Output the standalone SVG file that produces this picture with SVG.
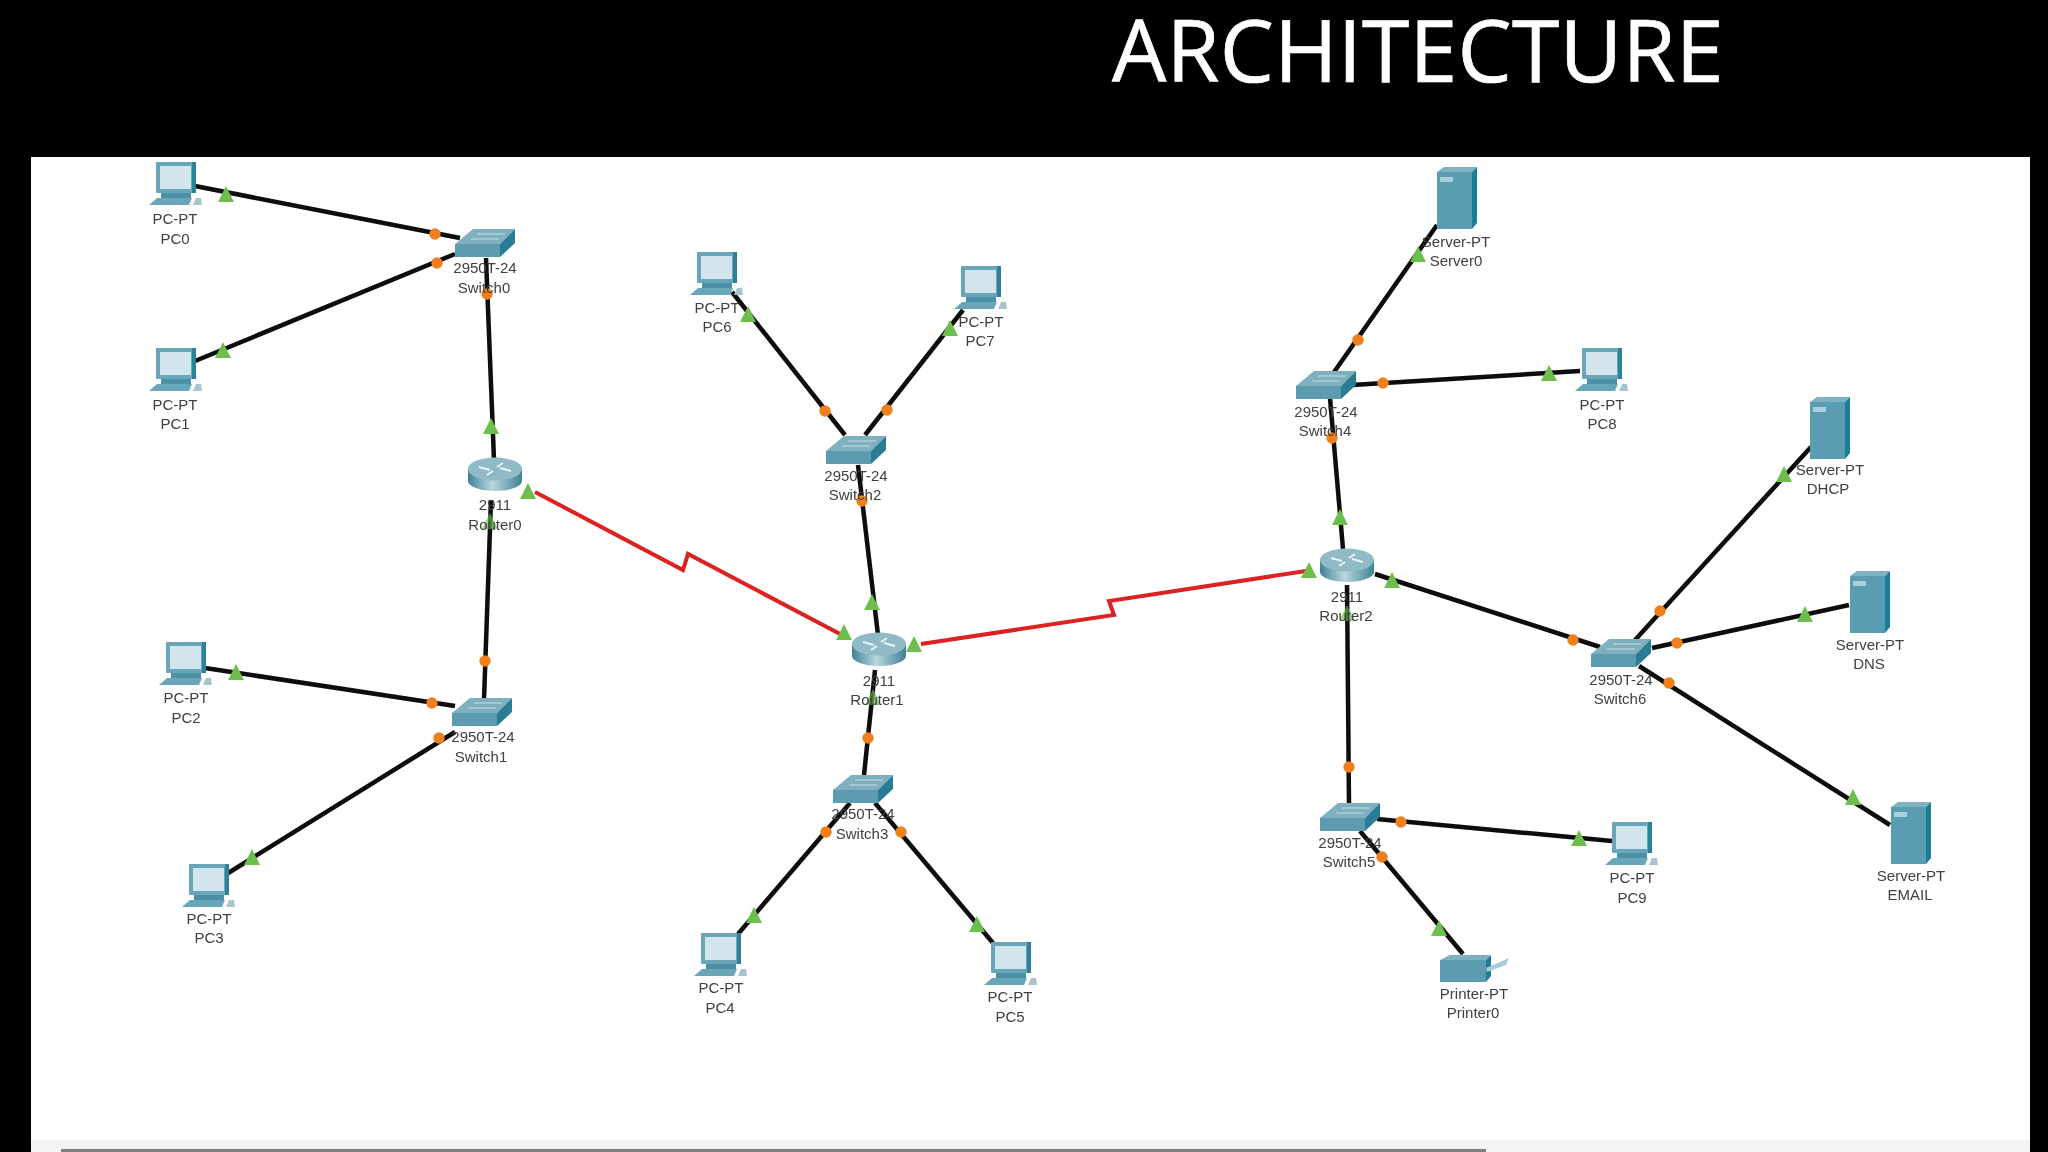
<svg xmlns="http://www.w3.org/2000/svg" width="2048" height="1152" viewBox="0 0 2048 1152">
<style>
.l{font:15px "Liberation Sans",Arial,sans-serif;fill:#404040;text-anchor:middle}
.t{font:86px "Open Sans","Noto Sans",sans-serif;fill:#fff;stroke:#fff;stroke-width:.7;letter-spacing:.2px}
.w{stroke:#0a0a0a;stroke-width:4.5;fill:none;stroke-linecap:butt}
.r{stroke:#dc2020;stroke-width:4;fill:none}
.o{fill:#f07f1e}
.g{fill:#6cbf4e}
.f{fill:#6cbf4e;opacity:.65}
</style>
<defs>
<linearGradient id="rg" x1="0" x2="1" y1="0" y2="0"><stop offset="0" stop-color="#3f8296"/><stop offset=".45" stop-color="#b9d6dd"/><stop offset="1" stop-color="#3f8296"/></linearGradient>
<filter id="soft" x="-2%" y="-2%" width="104%" height="104%"><feGaussianBlur stdDeviation="0.5"/></filter>
<circle id="dot" r="5.7" class="o"/>
<path id="tri" d="M0-9L8 7H-8Z" class="g"/>
<path id="trif" d="M0-9L8 7H-8Z" class="f"/>
<g id="pc">
<rect x="-19" y="-22" width="40" height="31" rx="1" fill="#6aa6b9"/>
<rect x="17" y="-22" width="4" height="31" fill="#2f8199"/>
<rect x="-15" y="-18" width="31" height="23" fill="#d3e5ec"/>
<rect x="-14" y="9" width="30" height="5" fill="#4c90a6"/>
<path d="M-26 21L-18 14H17L14 21Z" fill="#6aa6b9"/>
<path d="M18 21l3-7h5l1 7Z" fill="#a9c4cc"/>
</g>
<g id="sw">
<path d="M-30 1L-12-14H30L15 1Z" fill="#7fb0bf"/>
<rect x="-30" y="1" width="45" height="13" fill="#5c9bb0"/>
<path d="M15 1L30-14V0L15 14Z" fill="#2b7c95"/>
<path d="M-14-4H14M-8-9H20" stroke="#c8dde3" stroke-width="1" fill="none"/>
</g>
<g id="rt">
<path d="M-27-6V6A27 10 0 0 0 27 6V-6Z" fill="url(#rg)"/>
<ellipse cx="0" cy="-6" rx="27" ry="11.5" fill="#8fbac6"/>
<path d="M-16-8L-5-5M16-4L5-7M-8 0L-2-4M8-12L2-8" stroke="#eaf4f6" stroke-width="2" fill="none"/>
</g>
<g id="sv">
<path d="M-20-26L-13-31H20L15-26Z" fill="#7fb3c2"/>
<rect x="-20" y="-26" width="35" height="57" fill="#5a9db3"/>
<path d="M15-26L20-31V25L15 31Z" fill="#1f7d99"/>
<rect x="-17" y="-21" width="13" height="5" fill="#a8cfdc"/>
</g>
<g id="pr">
<path d="M-33-8L-23-13H18L13-8Z" fill="#7fb0bf"/>
<rect x="-33" y="-8" width="46" height="22" fill="#5c9bb0"/>
<path d="M13-8L18-13V8L13 14Z" fill="#1f7d99"/>
<path d="M13 0L36-10L33-3L14 4Z" fill="#a9cbd5"/>
</g>
</defs>
<rect width="2048" height="1152" fill="#000"/>
<rect x="31" y="157" width="1999" height="995" fill="#fff"/>
<rect x="31" y="1140" width="1999" height="12" fill="#f4f4f4"/>
<rect x="61" y="1149" width="1425" height="3" fill="#808080"/>
<text class="t" x="1112" y="82" id="title">ARCHITECTURE</text>
<g id="connectors" filter="url(#soft)">
<path class="w" d="M195 186L460 238M195 361L455 254M486 258L494 460M491 500L484 700M205 668L455 706M225 875L455 732"/>
<path class="w" d="M878 635L858 465M732 292L845 435M963 310L865 435M875 670L864 775M850 803L738 934M875 803L993 943"/>
<path class="w" d="M1343 549L1330 398M1332 375L1437 225M1352 385L1580 371M1375 574L1600 647M1347 585L1349 805M1377 819L1612 841M1360 831L1463 954"/>
<path class="w" d="M1635 640L1811 447M1652 648L1849 605M1639 666L1890 825"/>
<path class="r" d="M535 492L683 570L688 554L842 635M921 644L1114 615L1109 601L1306 571"/>
<g>
<use href="#dot" x="435" y="234"/><use href="#dot" x="437" y="263"/><use href="#dot" x="487" y="294"/><use href="#dot" x="485" y="661"/><use href="#dot" x="432" y="703"/><use href="#dot" x="439" y="738"/><use href="#dot" x="825" y="411"/><use href="#dot" x="887" y="410"/><use href="#dot" x="862" y="501"/><use href="#dot" x="868" y="738"/><use href="#dot" x="826" y="832"/><use href="#dot" x="901" y="832"/><use href="#dot" x="1358" y="340"/><use href="#dot" x="1383" y="383"/><use href="#dot" x="1332" y="438"/><use href="#dot" x="1349" y="767"/><use href="#dot" x="1401" y="822"/><use href="#dot" x="1382" y="857"/><use href="#dot" x="1573" y="640"/><use href="#dot" x="1660" y="611"/><use href="#dot" x="1677" y="643"/><use href="#dot" x="1669" y="683"/>
</g>
<g>
<use href="#tri" x="226" y="195"/><use href="#tri" x="223" y="351"/><use href="#tri" x="491" y="427"/><use href="#tri" x="528" y="492"/><use href="#trif" x="490" y="522"/><use href="#tri" x="236" y="673"/><use href="#tri" x="252" y="858"/><use href="#tri" x="844" y="633"/><use href="#tri" x="914" y="645"/><use href="#tri" x="872" y="603"/><use href="#trif" x="873" y="698"/><use href="#tri" x="748" y="315"/><use href="#tri" x="950" y="329"/><use href="#tri" x="754" y="916"/><use href="#tri" x="977" y="925"/><use href="#tri" x="1418" y="255"/><use href="#tri" x="1549" y="374"/><use href="#tri" x="1340" y="518"/><use href="#tri" x="1309" y="571"/><use href="#tri" x="1392" y="581"/><use href="#trif" x="1347" y="614"/><use href="#tri" x="1784" y="475"/><use href="#tri" x="1805" y="615"/><use href="#tri" x="1853" y="798"/><use href="#tri" x="1579" y="839"/><use href="#tri" x="1439" y="929"/>
</g>
</g>
<g id="nodes" filter="url(#soft)">
<g id="PC0"><use href="#pc" x="175" y="184"/><text class="l" x="175" y="224">PC-PT</text><text class="l" x="175" y="244">PC0</text></g>
<g id="PC1"><use href="#pc" x="175" y="370"/><text class="l" x="175" y="410">PC-PT</text><text class="l" x="175" y="429">PC1</text></g>
<g id="PC2"><use href="#pc" x="185" y="664"/><text class="l" x="186" y="703">PC-PT</text><text class="l" x="186" y="723">PC2</text></g>
<g id="PC3"><use href="#pc" x="208" y="886"/><text class="l" x="209" y="924">PC-PT</text><text class="l" x="209" y="943">PC3</text></g>
<g id="PC4"><use href="#pc" x="720" y="955"/><text class="l" x="721" y="993">PC-PT</text><text class="l" x="720" y="1013">PC4</text></g>
<g id="PC5"><use href="#pc" x="1010" y="964"/><text class="l" x="1010" y="1002">PC-PT</text><text class="l" x="1010" y="1022">PC5</text></g>
<g id="PC6"><use href="#pc" x="716" y="274"/><text class="l" x="717" y="313">PC-PT</text><text class="l" x="717" y="332">PC6</text></g>
<g id="PC7"><use href="#pc" x="980" y="288"/><text class="l" x="981" y="327">PC-PT</text><text class="l" x="980" y="346">PC7</text></g>
<g id="PC8"><use href="#pc" x="1601" y="370"/><text class="l" x="1602" y="410">PC-PT</text><text class="l" x="1602" y="429">PC8</text></g>
<g id="PC9"><use href="#pc" x="1631" y="844"/><text class="l" x="1632" y="883">PC-PT</text><text class="l" x="1632" y="903">PC9</text></g>
<g id="Switch0"><use href="#sw" x="485" y="243"/><text class="l" x="485" y="273">2950T-24</text><text class="l" x="484" y="293">Switch0</text></g>
<g id="Switch1"><use href="#sw" x="482" y="712"/><text class="l" x="483" y="742">2950T-24</text><text class="l" x="481" y="762">Switch1</text></g>
<g id="Switch2"><use href="#sw" x="856" y="450"/><text class="l" x="856" y="481">2950T-24</text><text class="l" x="855" y="500">Switch2</text></g>
<g id="Switch3"><use href="#sw" x="863" y="789"/><text class="l" x="863" y="819">2950T-24</text><text class="l" x="862" y="839">Switch3</text></g>
<g id="Switch4"><use href="#sw" x="1326" y="385"/><text class="l" x="1326" y="417">2950T-24</text><text class="l" x="1325" y="436">Switch4</text></g>
<g id="Switch5"><use href="#sw" x="1350" y="817"/><text class="l" x="1350" y="848">2950T-24</text><text class="l" x="1349" y="867">Switch5</text></g>
<g id="Switch6"><use href="#sw" x="1621" y="653"/><text class="l" x="1621" y="685">2950T-24</text><text class="l" x="1620" y="704">Switch6</text></g>
<g id="Router0"><use href="#rt" x="495" y="475"/><text class="l" x="495" y="510">2911</text><text class="l" x="495" y="530">Router0</text></g>
<g id="Router1"><use href="#rt" x="879" y="650"/><text class="l" x="879" y="686">2911</text><text class="l" x="877" y="705">Router1</text></g>
<g id="Router2"><use href="#rt" x="1347" y="566"/><text class="l" x="1347" y="602">2911</text><text class="l" x="1346" y="621">Router2</text></g>
<g id="Server0"><use href="#sv" x="1457" y="198"/><text class="l" x="1456" y="247">Server-PT</text><text class="l" x="1456" y="266">Server0</text></g>
<g id="DHCP"><use href="#sv" x="1830" y="428"/><text class="l" x="1830" y="475">Server-PT</text><text class="l" x="1828" y="494">DHCP</text></g>
<g id="DNS"><use href="#sv" x="1870" y="602"/><text class="l" x="1870" y="650">Server-PT</text><text class="l" x="1869" y="669">DNS</text></g>
<g id="EMAIL"><use href="#sv" x="1911" y="833"/><text class="l" x="1911" y="881">Server-PT</text><text class="l" x="1910" y="900">EMAIL</text></g>
<g id="Printer0"><use href="#pr" x="1473" y="968"/><text class="l" x="1474" y="999">Printer-PT</text><text class="l" x="1473" y="1018">Printer0</text></g>
</g>
</svg>
